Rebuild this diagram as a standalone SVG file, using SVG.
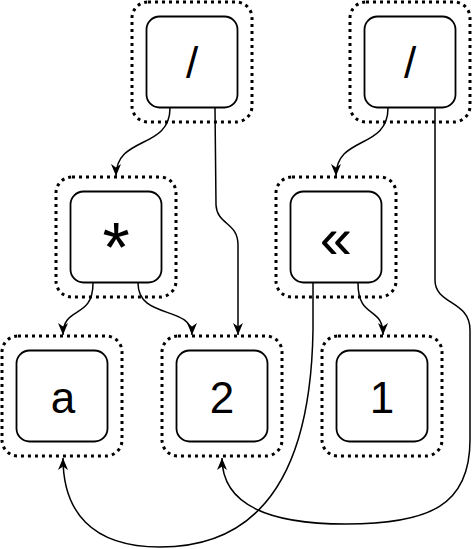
<svg xmlns="http://www.w3.org/2000/svg" width="474" height="549" viewBox="0 0 474 549">
<defs>
<style>
.outer{fill:none;stroke:#000;stroke-width:3;stroke-dasharray:3 4}
.inner{fill:#fff;stroke:#000;stroke-width:1.8}
.lbl{font-family:"Liberation Sans",Arial,sans-serif;font-size:44px;fill:#000;text-anchor:middle}
.edge{fill:none;stroke:#000;stroke-width:1.5;marker-end:url(#arr)}
</style>
<marker id="arr" markerWidth="13" markerHeight="11" refX="12" refY="5" orient="auto" markerUnits="userSpaceOnUse">
<path d="M0,0 L12,5 L0,10 L3.5,5 Z" fill="#000"/>
</marker>
</defs>
<rect width="474" height="549" fill="#fff"/>
<g id="div1">
<rect class="outer" x="132" y="2" width="120" height="120" rx="16"/>
<rect class="inner" x="146.5" y="16.5" width="91" height="91" rx="13"/>
<text class="lbl" x="192" y="78">/</text>
</g>
<g id="div2">
<rect class="outer" x="350" y="2" width="120" height="120" rx="16"/>
<rect class="inner" x="364.5" y="16.5" width="91" height="91" rx="13"/>
<text class="lbl" x="410" y="78">/</text>
</g>
<g id="mul">
<rect class="outer" x="56" y="177" width="120" height="120" rx="16"/>
<rect class="inner" x="70.5" y="191.5" width="91" height="91" rx="13"/>
<text class="lbl" x="116" y="272" style="font-size:70px">*</text>
</g>
<g id="shl">
<rect class="outer" x="276" y="177" width="120" height="120" rx="16"/>
<rect class="inner" x="290.5" y="191.5" width="91" height="91" rx="13"/>
<text class="lbl" x="336" y="258" style="font-size:58px">«</text>
</g>
<g id="a">
<rect class="outer" x="2" y="336" width="120" height="120" rx="16"/>
<rect class="inner" x="16.5" y="350.5" width="91" height="91" rx="13"/>
<text class="lbl" x="63" y="412.5">a</text>
</g>
<g id="two">
<rect class="outer" x="162" y="336" width="120" height="120" rx="16"/>
<rect class="inner" x="176.5" y="350.5" width="91" height="91" rx="13"/>
<text class="lbl" x="222" y="412.5">2</text>
</g>
<g id="one">
<rect class="outer" x="322" y="336" width="120" height="120" rx="16"/>
<rect class="inner" x="336.5" y="350.5" width="91" height="91" rx="13"/>
<text class="lbl" x="382" y="412.5">1</text>
</g>
<g id="connectors">
<path class="edge" d="M170,108 C170,150 116,135 116,176"/>
<path class="edge" d="M215,108 L216,205 C217,225 238,222 238,245 L238,335"/>
<path class="edge" d="M93,283 C93,320 63,305 63,335"/>
<path class="edge" d="M138,283 C138,320 192,305 192,335"/>
<path class="edge" d="M388,108 C388,150 336,135 336,176"/>
<path class="edge" d="M358,283 C358,320 383,305 383,335"/>
<path class="edge" d="M435,108 L435,280 C435,305 470,300 470,330 L470,440 C470,505 430,524 346,524 C270,524 222,505 222,458"/>
<path class="edge" d="M313,283 L313,330 C311,460 270,547 160,547 C90,547 63,510 63,458"/>
</g>
</svg>
